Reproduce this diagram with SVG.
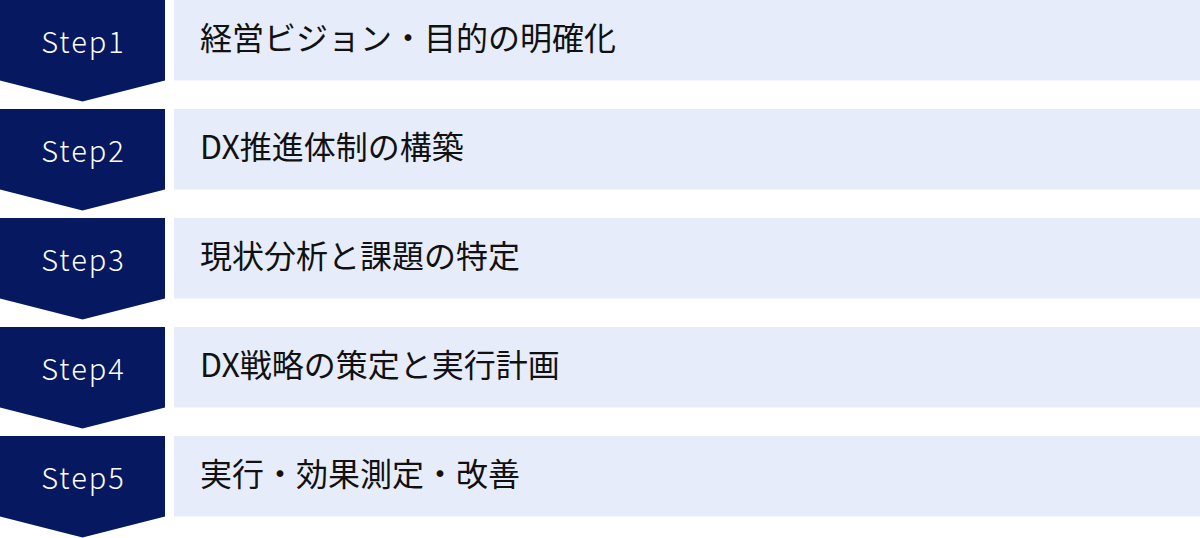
<svg xmlns="http://www.w3.org/2000/svg" width="1200" height="538" viewBox="0 0 1200 538">
<style>
.chev{fill:#061860}
.box{fill:#e6ecf9}
.step{font-family:"Noto Sans CJK JP","Noto Sans",sans-serif;font-size:29px;font-weight:300;fill:#ffffff;letter-spacing:2px}
.lbl{font-family:"Noto Sans CJK JP","Noto Sans",sans-serif;font-size:32px;fill:#111111}
</style>
<rect width="1200" height="538" fill="#ffffff"/>
<defs>
<path id="chev" d="M0 0H165V80.5L82.5 101.5L0 80.5Z"/>
</defs>
<g id="step1" transform="translate(0,0)">
<use href="#chev" class="chev"/>
<text class="step" x="83.5" y="52.5" text-anchor="middle">Step1</text>
<rect class="box" x="174" y="0" width="1026" height="80.5"/>
<text class="lbl" x="200" y="50">経営ビジョン・目的の明確化</text>
</g>
<g id="step2" transform="translate(0,109)">
<use href="#chev" class="chev"/>
<text class="step" x="83.5" y="52.5" text-anchor="middle">Step2</text>
<rect class="box" x="174" y="0" width="1026" height="80.5"/>
<text class="lbl" x="200" y="50">DX推進体制の構築</text>
</g>
<g id="step3" transform="translate(0,218)">
<use href="#chev" class="chev"/>
<text class="step" x="83.5" y="52.5" text-anchor="middle">Step3</text>
<rect class="box" x="174" y="0" width="1026" height="80.5"/>
<text class="lbl" x="200" y="50">現状分析と課題の特定</text>
</g>
<g id="step4" transform="translate(0,327)">
<use href="#chev" class="chev"/>
<text class="step" x="83.5" y="52.5" text-anchor="middle">Step4</text>
<rect class="box" x="174" y="0" width="1026" height="80.5"/>
<text class="lbl" x="200" y="50">DX戦略の策定と実行計画</text>
</g>
<g id="step5" transform="translate(0,436)">
<use href="#chev" class="chev"/>
<text class="step" x="83.5" y="52.5" text-anchor="middle">Step5</text>
<rect class="box" x="174" y="0" width="1026" height="80.5"/>
<text class="lbl" x="200" y="50">実行・効果測定・改善</text>
</g>
<g id="connectors"/>
</svg>
